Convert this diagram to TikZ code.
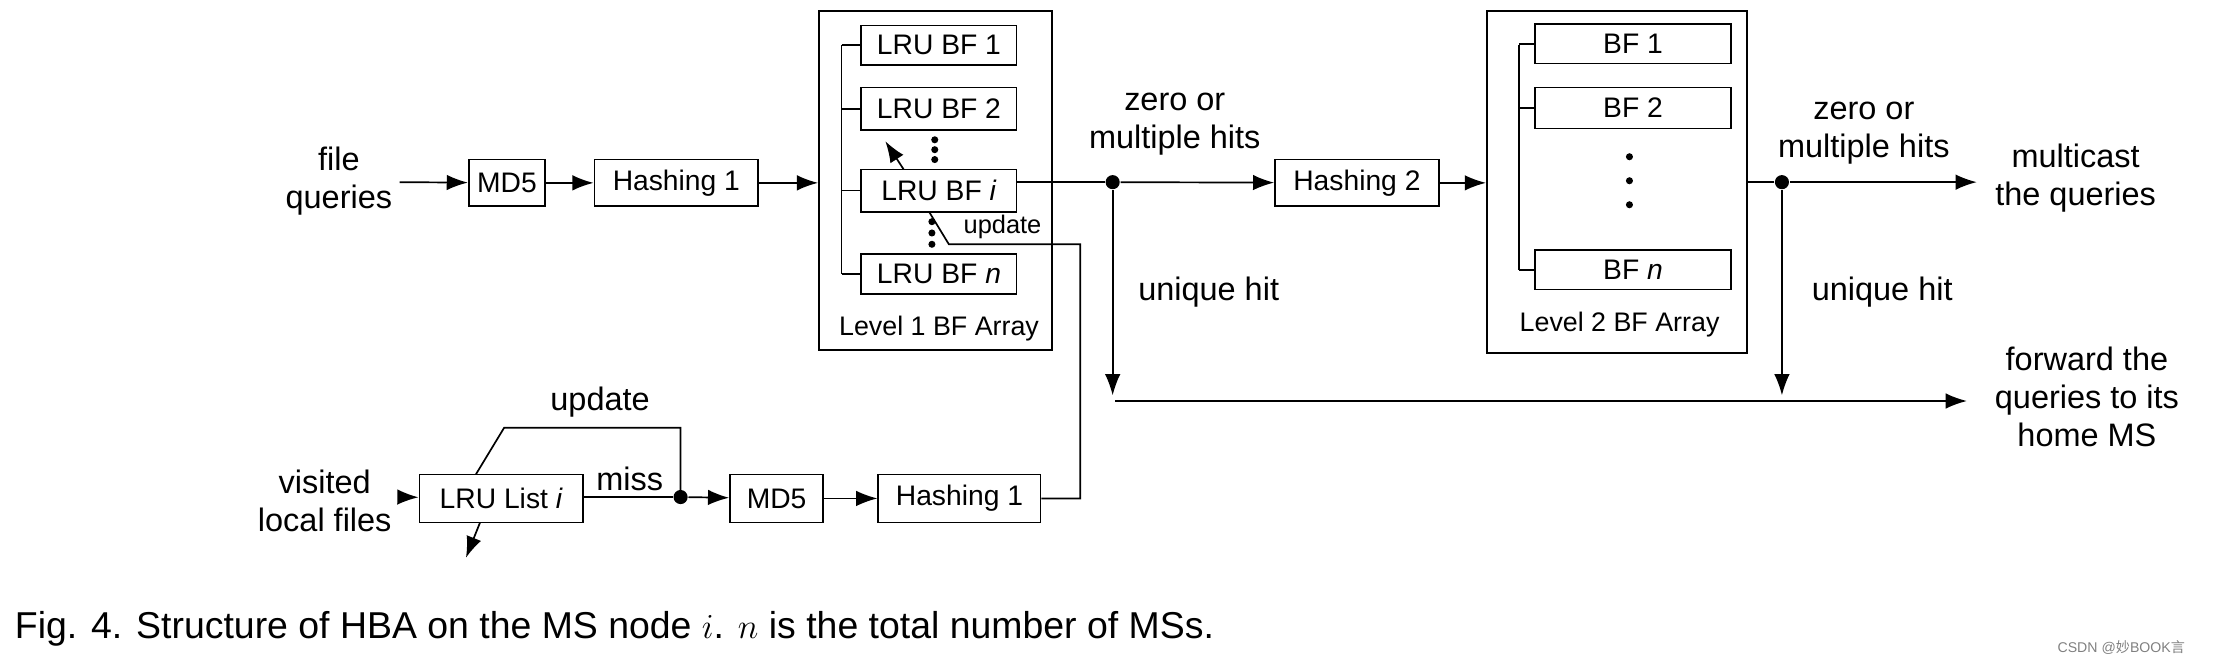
\documentclass[tikz,border=0pt]{standalone}
\usepackage{fontspec}
\setmainfont{Liberation Sans}
\newfontfamily\cjk{Noto Sans CJK SC}
\usetikzlibrary{arrows.meta}
\begin{document}
\begin{tikzpicture}[x=1pt,y=-1pt,line width=1.2pt,
  box/.style={draw,minimum height=0pt,inner sep=0pt,font=\fontsize{20}{22}\selectfont},
  lab/.style={font=\fontsize{23}{27}\selectfont,align=center,inner sep=0pt},
  arr/.style={-{Latex[length=15pt,width=11pt]}},
  dot/.style={circle,fill,inner sep=0pt,minimum size=10pt},
  bdot/.style={circle,fill,inner sep=0pt,minimum size=5pt}]
\useasboundingbox (0,0) rectangle (1568,472);
\newcommand\bx[6]{\node[box,minimum width=#4-#2,minimum height=#5-#3] (#1) at ({(#2+#4)/2},{(#3+#5)/2}) {#6};}
% level 1
\bx{md5a}{332}{113}{386}{146}{MD5}
\bx{hasha}{421}{113}{537}{146}{Hashing 1}
\bx{lv1}{580}{8}{745}{248}{}
\bx{l1}{610}{18}{720}{46}{LRU BF 1}
\bx{l2}{610}{62}{720}{92}{LRU BF 2}
\bx{li}{610}{120}{720}{150}{LRU BF \textit{i}}
\bx{ln}{610}{180}{720}{208}{LRU BF \textit{n}}
\node[font=\fontsize{19}{21}\selectfont] (lv1l) at (665,233) {Level 1 BF Array};
\coordinate (fq) at (283,129);
\node[lab] (fqt) at (240,128) {file\\queries};
\draw[arr] (fq) -- (md5a);
\draw[arr] (md5a) -- (hasha);
\draw[arr] (hasha) -- (lv1.west|-hasha);
\draw (596,32) -- (596,194);
\foreach \b in {l1,l2,li,ln} \draw (596,0|-\b.west) -- (\b.west);
\foreach \y in {99,106,113} \node[bdot] at (662,\y) {};
\foreach \y in {157,165,173} \node[bdot] at (660,\y) {};
\coordinate (ua) at (640,120);
\coordinate (ub) at (627,100);
\draw[arr] (ua) -- (ub);
% level 2
\bx{hashb}{903}{113}{1019}{146}{Hashing 2}
\bx{lv2}{1053}{8}{1237}{250}{}
\bx{b1}{1087}{17}{1226}{45}{BF 1}
\bx{b2}{1087}{62}{1226}{91}{BF 2}
\bx{bn}{1087}{177}{1226}{205}{BF \textit{n}}
\node[font=\fontsize{19}{21}\selectfont] (lv2l) at (1147,230) {Level 2 BF Array};
\draw (1076,32) -- (1076,191);
\foreach \b in {b1,b2,bn} \draw (1076,0|-\b.west) -- (\b.west);
\foreach \y in {111,128,145} \node[bdot] at (1154,\y) {};
\node[dot] (d1) at (788,129) {};
\node[dot] (d2) at (1262,129) {};
\draw (li.east|-d1) -- (d1);
\draw[arr] (d1) -- (hashb);
\draw[arr] (hashb) -- (lv2.west|-hashb);
\draw (lv2.east|-d2) -- (d2);
\coordinate (mc) at (1400,129);
\draw[arr] (d2) -- (mc);
\node[lab] (z1) at (832,88) {zero or\\multiple hits};
\node[lab] (z2) at (1320,94) {zero or\\multiple hits};
\node[lab] (mct) at (1470,126) {multicast\\the queries};
\node[lab] (u1) at (856,207) {unique hit};
\node[lab] (u2) at (1333,207) {unique hit};
\coordinate (h0) at (790,284);
\coordinate (h1) at (1393,284);
\draw[arr] (h0) -- (h1);
\draw[arr] (d1) -- (788,280);
\draw[arr] (d2) -- (1262,280);
\node[lab] (fwd) at (1478,281) {forward the\\queries to its\\home MS};
% bottom row
\node[lab] (vlf) at (230,355) {visited\\local files};
\bx{lru}{297}{336}{413}{370}{LRU List \textit{i}}
\bx{md5b}{517}{336}{583}{370}{MD5}
\bx{hashc}{622}{336}{737}{370}{Hashing 1}
\coordinate (vin) at (282,352);
\draw[arr] (vin) -- (lru);
\node[dot] (d3) at (482,352) {};
\draw (lru.east|-d3) -- (d3);
\draw[arr] (d3) -- (md5b);
\draw[arr] (md5b) -- (hashc);
\node[lab] (miss) at (446,339) {miss};
\node[lab] (upd) at (425,285) {update};
\draw (337,336) -- (357,303) -- (482,303) -- (d3.center);
\coordinate (la) at (340,370);
\coordinate (lb) at (330,395);
\draw[arr] (la) -- (lb);
\draw (hashc.east) -- (765,353) -- (765,173) -- (672,173) -- (658,150);
\node[font=\fontsize{18}{20}\selectfont,inner sep=1pt] (updt) at (710,161) {update};
% caption
\node[anchor=base west,font=\fontsize{26.5}{30}\selectfont,inner sep=0pt] (cap) at (10,452) {Fig. 4. Structure of HBA on the MS node $i$. $n$ is the total number of MSs.};
\node[anchor=base east,font=\fontsize{10}{11}\selectfont,text=gray,inner sep=0pt] (wm) at (1548,462) {CSDN @{\cjk 妙}BOOK{\cjk 言}};
\end{tikzpicture}
\end{document}
